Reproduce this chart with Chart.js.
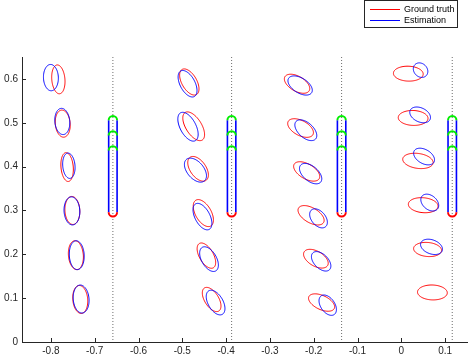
<!DOCTYPE html>
<html><head><meta charset="utf-8">
<script src="https://cdn.jsdelivr.net/npm/chart.js@4/dist/chart.umd.min.js"></script>
<style>html,body{margin:0;padding:0;background:#fff}</style>
</head><body>
<canvas id="c" width="474" height="358"></canvas>
<script>
// ---- data ----
const xTicks = [-0.8,-0.7,-0.6,-0.5,-0.4,-0.3,-0.2,-0.1,0,0.1];
const yTicks = [0,0.1,0.2,0.3,0.4,0.5,0.6];
const seriesNames = ['Ground truth','Estimation'];

// Ground truth ellipses: centre, semi-axes, major-axis angle (deg)
const gtX = [-0.783,-0.773,-0.763,-0.751,-0.743,-0.733, -0.484,-0.474,-0.464,-0.452,-0.445,-0.433, -0.238,-0.230,-0.216,-0.206,-0.195,-0.182, 0.016,0.027,0.038,0.050,0.060,0.071];
const gtY = [0.599,0.498,0.399,0.300,0.198,0.097, 0.593,0.492,0.395,0.294,0.197,0.097, 0.589,0.488,0.389,0.289,0.190,0.090, 0.612,0.511,0.413,0.312,0.211,0.113];
const gtMajor = [0.033,0.031,0.033,0.032,0.033,0.032, 0.033,0.037,0.032,0.034,0.032,0.031, 0.032,0.032,0.033,0.033,0.031,0.032, 0.034,0.034,0.035,0.034,0.032,0.034];
const gtMinor = [0.015,0.017,0.014,0.017,0.017,0.017, 0.017,0.018,0.018,0.018,0.016,0.016, 0.017,0.017,0.017,0.017,0.017,0.016, 0.017,0.017,0.017,0.017,0.016,0.017];
const gtAngle = [95,95,95,93,95,95, 120,122,125,120,120,122, 150,152,150,150,150,155, 178,178,172,175,175,178];

// Estimated ellipses
const estX = [-0.800,-0.774,-0.759,-0.752,-0.741,-0.731, -0.488,-0.487,-0.470,-0.454,-0.439,-0.424, -0.231,-0.218,-0.207,-0.189,-0.183,-0.168, 0.044,0.043,0.052,0.065,0.069];
const estY = [0.603,0.503,0.402,0.299,0.198,0.098, 0.589,0.491,0.392,0.286,0.189,0.090, 0.585,0.483,0.384,0.282,0.184,0.084, 0.620,0.518,0.423,0.318,0.217];
const estMajor = [0.030,0.030,0.029,0.032,0.033,0.032, 0.033,0.036,0.032,0.033,0.031,0.031, 0.031,0.030,0.030,0.025,0.027,0.026, 0.018,0.025,0.026,0.023,0.026];
const estMinor = [0.017,0.017,0.014,0.018,0.017,0.018, 0.017,0.018,0.019,0.017,0.017,0.017, 0.017,0.017,0.017,0.016,0.016,0.016, 0.015,0.016,0.016,0.016,0.016];
const estAngle = [92,95,95,93,93,95, 118,118,130,118,120,120, 148,138,140,130,135,125, 135,155,150,140,160];

// Vertical dividers and capsule markers
const dividerX = [-0.6585,-0.3874,-0.1363,0.1163];
const greenLevels = [0.506,0.471,0.437];
const redLevel = 0.296;
const capHalfWidth = 0.0096;

// ---- drawing helpers ----
function drawEllipse(ctx, xs, ys, cx, cy, a, b, angDeg, color){
  const phi = angDeg*Math.PI/180, c = Math.cos(phi), s = Math.sin(phi);
  ctx.beginPath();
  const N = 90;
  for (let i=0;i<=N;i++){
    const t = i/N*2*Math.PI;
    const u = a*Math.cos(t), v = b*Math.sin(t);
    const px = xs.getPixelForValue(cx + u*c - v*s);
    const py = ys.getPixelForValue(cy + u*s + v*c);
    if (i===0) ctx.moveTo(px,py); else ctx.lineTo(px,py);
  }
  ctx.closePath();
  ctx.strokeStyle = color; ctx.lineWidth = 1; ctx.stroke();
}

const ellipsePlugin = {
  id:'ellipses',
  afterDatasetsDraw(chart){
    const ctx = chart.ctx, xs = chart.scales.x, ys = chart.scales.y;
    const area = chart.chartArea;
    ctx.save();
    // dotted dividers
    ctx.setLineDash([1,2]);
    ctx.strokeStyle = 'rgba(60,60,60,0.75)';
    ctx.lineWidth = 1;
    dividerX.forEach(d=>{
      const px = xs.getPixelForValue(d);
      ctx.beginPath(); ctx.moveTo(px, area.top); ctx.lineTo(px, area.bottom); ctx.stroke();
    });
    ctx.setLineDash([]);
    // capsules
    dividerX.forEach(d=>{
      const px = xs.getPixelForValue(d);
      const r = xs.getPixelForValue(d+capHalfWidth) - px;
      const yTop = ys.getPixelForValue(greenLevels[0]);
      const yBot = ys.getPixelForValue(redLevel);
      ctx.strokeStyle = '#0000ff'; ctx.lineWidth = 1.6;
      ctx.beginPath();
      ctx.moveTo(px-r, yTop); ctx.lineTo(px-r, yBot);
      ctx.moveTo(px+r, yTop); ctx.lineTo(px+r, yBot);
      ctx.stroke();
      ctx.strokeStyle = '#00ee00'; ctx.lineWidth = 2;
      greenLevels.forEach(l=>{
        const py = ys.getPixelForValue(l);
        ctx.beginPath(); ctx.arc(px, py, r, Math.PI, 2*Math.PI); ctx.stroke();
      });
      ctx.strokeStyle = '#ff0000'; ctx.lineWidth = 2;
      ctx.beginPath(); ctx.arc(px, yBot, r, 0, Math.PI); ctx.stroke();
    });
    // ellipses
    for (let i=0;i<gtX.length;i++) drawEllipse(ctx, xs, ys, gtX[i], gtY[i], gtMajor[i], gtMinor[i], gtAngle[i], '#ff0000');
    for (let i=0;i<estX.length;i++) drawEllipse(ctx, xs, ys, estX[i], estY[i], estMajor[i], estMinor[i], estAngle[i], '#0000ff');
    ctx.restore();
  },
  afterDraw(chart){
    const ctx = chart.ctx, xs = chart.scales.x, ys = chart.scales.y;
    const area = chart.chartArea;
    ctx.save();
    // inward ticks
    ctx.strokeStyle = '#262626'; ctx.lineWidth = 1;
    ctx.beginPath();
    xTicks.forEach(v=>{ const px = Math.round(xs.getPixelForValue(v))+0.5; ctx.moveTo(px, area.bottom); ctx.lineTo(px, area.bottom-4); });
    yTicks.forEach(v=>{ const py = Math.round(ys.getPixelForValue(v))+0.5; ctx.moveTo(area.left, py); ctx.lineTo(area.left+4, py); });
    ctx.stroke();
    // legend
    const lx = 364.5, ly = 0.5, lw = 93, lh = 27;
    ctx.fillStyle = '#fff'; ctx.fillRect(lx, ly, lw, lh);
    ctx.strokeStyle = '#262626'; ctx.lineWidth = 1; ctx.strokeRect(lx, ly, lw, lh);
    const cols = ['#ff0000','#0000ff'];
    ctx.font = '9px "Liberation Sans", Arial, sans-serif';
    ctx.textBaseline = 'middle'; ctx.textAlign = 'left';
    seriesNames.forEach((n,i)=>{
      const yy = 9.5 + i*11;
      ctx.strokeStyle = cols[i]; ctx.lineWidth = 1;
      ctx.beginPath(); ctx.moveTo(370, yy); ctx.lineTo(400, yy); ctx.stroke();
      ctx.fillStyle = '#000'; ctx.fillText(n, 404, yy);
    });
    ctx.restore();
  }
};

const fmt = v => String(Math.round(v*10)/10);

new Chart(document.getElementById('c'), {
  type:'scatter',
  data:{ datasets:[
    { label: seriesNames[0], data: gtX.map((x,i)=>({x, y: gtY[i]})), pointRadius:0, borderColor:'#ff0000', showLine:false },
    { label: seriesNames[1], data: estX.map((x,i)=>({x, y: estY[i]})), pointRadius:0, borderColor:'#0000ff', showLine:false }
  ]},
  options:{
    responsive:false, animation:false, devicePixelRatio:1,
    layout:{ padding:{ top:57, right:7, left:0, bottom:0 } },
    plugins:{ legend:{ display:false }, tooltip:{ enabled:false } },
    scales:{
      x:{ type:'linear', min:-0.866, max:0.15,
        afterBuildTicks: s => { s.ticks = xTicks.map(v=>({value:v})); },
        afterFit: s => { s.height = 16; },
        ticks:{ autoSkip:false, maxRotation:0, padding:3, color:'#262626', font:{ family:'"Liberation Sans", Arial, sans-serif', size:10 }, callback: v => fmt(v) },
        grid:{ display:true, drawOnChartArea:false, drawTicks:false },
        border:{ display:true, color:'#262626', width:1 }
      },
      y:{ type:'linear', min:0, max:0.65,
        afterBuildTicks: s => { s.ticks = yTicks.map(v=>({value:v})); },
        afterFit: s => { s.width = 22; },
        ticks:{ autoSkip:false, padding:4, color:'#262626', font:{ family:'"Liberation Sans", Arial, sans-serif', size:10 }, callback: v => fmt(v) },
        grid:{ display:true, drawOnChartArea:false, drawTicks:false },
        border:{ display:true, color:'#262626', width:1 }
      }
    }
  },
  plugins:[ellipsePlugin]
});
</script>
</body></html>
